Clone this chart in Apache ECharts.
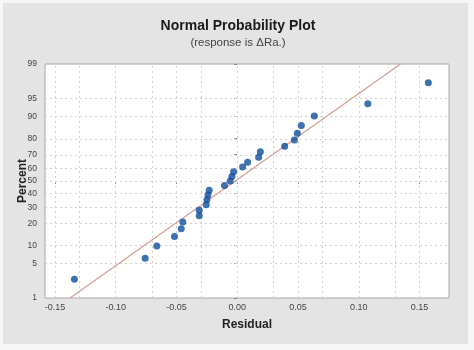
<!DOCTYPE html>
<html>
<head>
<meta charset="UTF-8">
<title>Normal Probability Plot</title>
<style>
  body{margin:0;padding:0;background:#f6f6f6;}
  #main{width:474px;height:350px;}
</style>
</head>
<body>
<div id="main"></div>
<script src="https://cdn.jsdelivr.net/npm/echarts@6/dist/echarts.min.js"></script>
<script>
// residuals, sorted, and their plotted percent
var residuals = [-0.134, -0.0758, -0.0662, -0.0517, -0.0461, -0.0448, -0.0313, -0.0313,
  -0.0255, -0.025, -0.0241, -0.0231, -0.0105, -0.0058, -0.0044, -0.003, 0.0044, 0.0085,
  0.0176, 0.019, 0.039, 0.047, 0.0494, 0.0527, 0.0634, 0.1074, 0.1572];
var percents = [2.55, 6.2, 9.85, 13.5, 17.15, 20.8, 24.45, 28.1, 31.75, 35.4, 39.05, 42.7,
  46.35, 50.0, 53.65, 57.3, 60.95, 64.6, 68.25, 71.9, 75.55, 79.2, 82.85, 86.5, 90.15, 93.8, 97.45];
// fitted line ends [residual, percent]
var fitLine = [[-0.1376, 1], [0.1343, 99]];
var xTicks = [-0.15, -0.10, -0.05, 0.00, 0.05, 0.10, 0.15];
var xGrid = [-0.15, -0.125, -0.1, -0.075, -0.05, -0.025, 0, 0.025, 0.05, 0.075, 0.1, 0.125, 0.15];
var pctTicks = [1, 5, 10, 20, 30, 40, 50, 60, 70, 80, 90, 95, 99];
var pctGrid = [5, 10, 20, 30, 40, 50, 60, 70, 80, 90, 95];

// inverse normal cdf (Acklam), percent -> z so the value axis acts as a probability axis
function zOf(pct) {
  var p = pct / 100;
  var a = [-39.69683028665376, 220.9460984245205, -275.9285104469687, 138.357751867269, -30.66479806614716, 2.506628277459239];
  var b = [-54.47609879822406, 161.5858368580409, -155.6989798598866, 66.80131188771972, -13.28068155288572];
  var c = [-0.007784894002430293, -0.3223964580411365, -2.400758277161838, -2.549732539343734, 4.374664141464968, 2.938163982698783];
  var d = [0.007784695709041462, 0.3224671290700398, 2.445134137142996, 3.754408661907416];
  var pl = 0.02425, q, r;
  if (p < pl) {
    q = Math.sqrt(-2 * Math.log(p));
    return (((((c[0]*q+c[1])*q+c[2])*q+c[3])*q+c[4])*q+c[5]) / ((((d[0]*q+d[1])*q+d[2])*q+d[3])*q+1);
  }
  if (p > 1 - pl) {
    q = Math.sqrt(-2 * Math.log(1 - p));
    return -(((((c[0]*q+c[1])*q+c[2])*q+c[3])*q+c[4])*q+c[5]) / ((((d[0]*q+d[1])*q+d[2])*q+d[3])*q+1);
  }
  q = p - 0.5; r = q * q;
  return (((((a[0]*r+a[1])*r+a[2])*r+a[3])*r+a[4])*r+a[5])*q / (((((b[0]*r+b[1])*r+b[2])*r+b[3])*r+b[4])*r+1);
}

var pts = residuals.map(function (x, i) { return [x, zOf(percents[i])]; });
var linePts = fitLine.map(function (d) { return [d[0], zOf(d[1])]; });
var yTickZ = pctTicks.map(zOf);

var gridMarks = xGrid.map(function (v) { return {xAxis: v}; })
  .concat(pctGrid.map(function (p) { return {yAxis: zOf(p)}; }));

var chart = echarts.init(document.getElementById('main'));
chart.setOption({
  backgroundColor: '#f6f6f6',
  animation: false,
  textStyle: {fontFamily: 'Liberation Sans, Arial, sans-serif'},
  graphic: [{
    type: 'rect', z: -1, silent: true,
    shape: {x: 3, y: 3, width: 465, height: 341},
    style: {fill: '#e4e4e4'}
  }],
  title: {
    text: 'Normal Probability Plot',
    subtext: '(response is ΔRa.)',
    left: 233, textAlign: 'center', top: 14, itemGap: 4,
    textStyle: {fontSize: 14, fontWeight: 'bold', color: '#1a1a1a', fontFamily: 'Liberation Sans, Arial, sans-serif'},
    subtextStyle: {fontSize: 11.5, color: '#444', fontFamily: 'Liberation Sans, Arial, sans-serif'}
  },
  grid: {
    left: 45, top: 64, width: 404, height: 234,
    show: true, backgroundColor: '#ffffff', borderColor: '#a8a8a8', borderWidth: 1
  },
  xAxis: {
    type: 'value', min: -0.1582, max: 0.1742,
    name: 'Residual', nameLocation: 'middle', nameGap: 21,
    nameTextStyle: {fontSize: 12, fontWeight: 'bold', color: '#222'},
    axisLine: {show: false},
    axisTick: {show: true, length: 3, customValues: xTicks, lineStyle: {color: '#888'}},
    axisLabel: {customValues: xTicks, fontSize: 9, color: '#444', margin: 5,
      formatter: function (v) { return v.toFixed(2); }},
    splitLine: {show: false}
  },
  yAxis: {
    type: 'value', min: zOf(1), max: zOf(99),
    name: 'Percent', nameLocation: 'middle', nameGap: 16, nameMoveOverlap: false,
    nameTextStyle: {fontSize: 12, fontWeight: 'bold', color: '#222'},
    axisLine: {show: false},
    axisTick: {show: true, length: 3, customValues: yTickZ, lineStyle: {color: '#888'}},
    axisLabel: {customValues: yTickZ, fontSize: 8.5, color: '#444', margin: 8,
      formatter: function (v) {
        for (var i = 0; i < pctTicks.length; i++) {
          if (Math.abs(yTickZ[i] - v) < 1e-6) return String(pctTicks[i]);
        }
        return '';
      }},
    splitLine: {show: false}
  },
  series: [
    {
      type: 'line', data: [], z: 1, silent: true,
      markLine: {
        silent: true, z: 1, symbol: ['none', 'none'], animation: false,
        label: {show: false},
        lineStyle: {color: '#d2d2d2', type: [2, 3], width: 1},
        emphasis: {disabled: true},
        data: gridMarks
      }
    },
    {
      type: 'line', data: linePts, z: 2, showSymbol: false, silent: true,
      lineStyle: {color: '#d69d98', width: 1.3}
    },
    {
      type: 'scatter', data: pts, z: 3, symbolSize: 7,
      itemStyle: {color: '#0f4c9c'}
    }
  ]
});
</script>
</body>
</html>
